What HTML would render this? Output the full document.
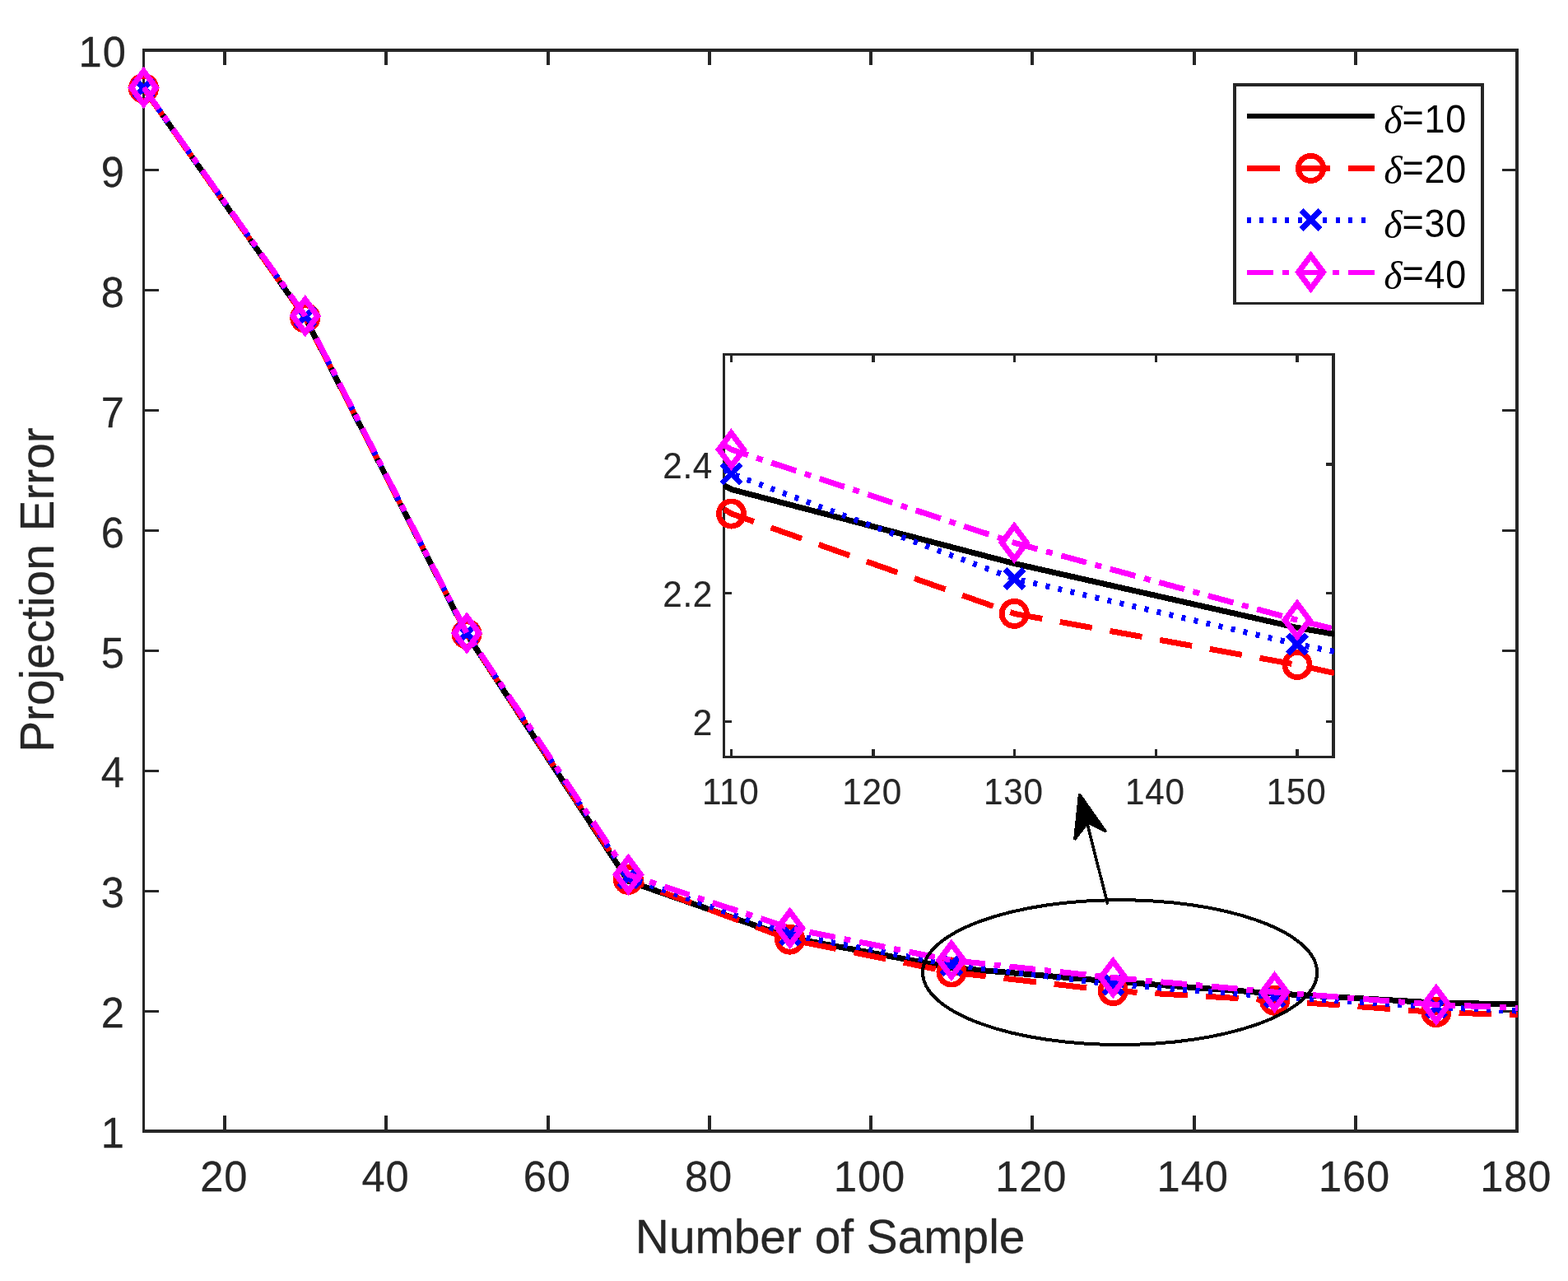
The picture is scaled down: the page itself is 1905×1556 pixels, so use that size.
<!DOCTYPE html>
<html lang="en"><head><meta charset="utf-8"><title>Projection Error vs Number of Sample</title>
<style>html,body{margin:0;padding:0;background:#fff}body{width:1905px;height:1556px;overflow:hidden}svg{display:block}text{font-family:"Liberation Sans",Arial,Helvetica,sans-serif;fill:#262626}.d{font-family:"Liberation Serif","DejaVu Serif",serif;font-style:italic}</style></head><body>
<svg width="1905" height="1556" viewBox="0 0 1905 1556" role="img" aria-label="Projection Error versus Number of Sample">
<defs><clipPath id="cm"><rect x="173" y="59" width="1671" height="1317"/></clipPath><clipPath id="ci"><rect x="879" y="430" width="742" height="490"/></clipPath></defs>
<rect width="1905" height="1556" fill="#fff"/>
<g fill="#262626" shape-rendering="crispEdges">
<rect x="173" y="59" width="3" height="1317"/>
<rect x="1841" y="59" width="4" height="1317"/>
<rect x="173" y="59" width="1672" height="4"/>
<rect x="173" y="1372" width="1672" height="4"/>
<rect x="271" y="1355" width="4" height="17"/>
<rect x="271" y="63" width="4" height="16"/>
<rect x="467" y="1355" width="4" height="17"/>
<rect x="467" y="63" width="4" height="16"/>
<rect x="664" y="1355" width="4" height="17"/>
<rect x="664" y="63" width="4" height="16"/>
<rect x="860" y="1355" width="4" height="17"/>
<rect x="860" y="63" width="4" height="16"/>
<rect x="1056" y="1355" width="4" height="17"/>
<rect x="1056" y="63" width="4" height="16"/>
<rect x="1252" y="1355" width="4" height="17"/>
<rect x="1252" y="63" width="4" height="16"/>
<rect x="1449" y="1355" width="4" height="17"/>
<rect x="1449" y="63" width="4" height="16"/>
<rect x="1645" y="1355" width="4" height="17"/>
<rect x="1645" y="63" width="4" height="16"/>
<rect x="176" y="1227" width="17" height="3"/>
<rect x="1825" y="1227" width="16" height="3"/>
<rect x="176" y="1081" width="17" height="3"/>
<rect x="1825" y="1081" width="16" height="3"/>
<rect x="176" y="935" width="17" height="3"/>
<rect x="1825" y="935" width="16" height="3"/>
<rect x="176" y="789" width="17" height="3"/>
<rect x="1825" y="789" width="16" height="3"/>
<rect x="176" y="643" width="17" height="3"/>
<rect x="1825" y="643" width="16" height="3"/>
<rect x="176" y="497" width="17" height="3"/>
<rect x="1825" y="497" width="16" height="3"/>
<rect x="176" y="351" width="17" height="3"/>
<rect x="1825" y="351" width="16" height="3"/>
<rect x="176" y="205" width="17" height="3"/>
<rect x="1825" y="205" width="16" height="3"/>
</g>
<g shape-rendering="crispEdges">
<g clip-path="url(#cm)"><path d="M174.5 107.1L370.79 386.04L567.09 770.31L763.38 1070.26L959.68 1138.97L1155.97 1175.45L1352.26 1192.25L1548.56 1206.81L1744.85 1218.04L1941.15 1221.69" fill="none" stroke="#000000" stroke-width="7" stroke-linejoin="round"/></g>









<g clip-path="url(#cm)"><path d="M174.5 107.25L370.79 386.04L567.09 770.02L763.38 1068.36L959.68 1141.16L1155.97 1180.96L1352.26 1203.63L1548.56 1215.23L1744.85 1229.57L1941.15 1235.99" fill="none" stroke="#ff0000" stroke-width="7" stroke-linejoin="round" stroke-dasharray="39.7 21.95"/></g>
<circle cx="174.5" cy="107.25" r="15.1" fill="none" stroke="#ff0000" stroke-width="6.8"/>
<circle cx="370.79" cy="386.04" r="15.1" fill="none" stroke="#ff0000" stroke-width="6.8"/>
<circle cx="567.09" cy="770.02" r="15.1" fill="none" stroke="#ff0000" stroke-width="6.8"/>
<circle cx="763.38" cy="1068.36" r="15.1" fill="none" stroke="#ff0000" stroke-width="6.8"/>
<circle cx="959.68" cy="1141.16" r="15.1" fill="none" stroke="#ff0000" stroke-width="6.8"/>
<circle cx="1155.97" cy="1180.96" r="15.1" fill="none" stroke="#ff0000" stroke-width="6.8"/>
<circle cx="1352.26" cy="1203.63" r="15.1" fill="none" stroke="#ff0000" stroke-width="6.8"/>
<circle cx="1548.56" cy="1215.23" r="15.1" fill="none" stroke="#ff0000" stroke-width="6.8"/>
<circle cx="1744.85" cy="1229.57" r="15.1" fill="none" stroke="#ff0000" stroke-width="6.8"/>
<g clip-path="url(#cm)"><path d="M174.5 106.81L370.79 384.73L567.09 769.73L763.38 1065.88L959.68 1135.33L1155.97 1171.9L1352.26 1195.71L1548.56 1210.56L1744.85 1223.44L1941.15 1232.78" fill="none" stroke="#0000ff" stroke-width="7" stroke-linejoin="round" stroke-dasharray="5 10.41"/></g>
<path d="M162.9 95.21L186.1 118.41M162.9 118.41L186.1 95.21" fill="none" stroke="#0000ff" stroke-width="7"/>
<path d="M359.19 373.13L382.39 396.33M359.19 396.33L382.39 373.13" fill="none" stroke="#0000ff" stroke-width="7"/>
<path d="M555.49 758.13L578.69 781.33M555.49 781.33L578.69 758.13" fill="none" stroke="#0000ff" stroke-width="7"/>
<path d="M751.78 1054.28L774.98 1077.48M751.78 1077.48L774.98 1054.28" fill="none" stroke="#0000ff" stroke-width="7"/>
<path d="M948.08 1123.73L971.28 1146.93M948.08 1146.93L971.28 1123.73" fill="none" stroke="#0000ff" stroke-width="7"/>
<path d="M1144.37 1160.3L1167.57 1183.5M1144.37 1183.5L1167.57 1160.3" fill="none" stroke="#0000ff" stroke-width="7"/>
<path d="M1340.66 1184.11L1363.86 1207.31M1340.66 1207.31L1363.86 1184.11" fill="none" stroke="#0000ff" stroke-width="7"/>
<path d="M1536.96 1198.96L1560.16 1222.16M1536.96 1222.16L1560.16 1198.96" fill="none" stroke="#0000ff" stroke-width="7"/>
<path d="M1733.25 1211.84L1756.45 1235.04M1733.25 1235.04L1756.45 1211.84" fill="none" stroke="#0000ff" stroke-width="7"/>
<g clip-path="url(#cm)"><path d="M174.5 106.37L370.79 383.85L567.09 769L763.38 1062.38L959.68 1127.45L1155.97 1166.4L1352.26 1187.55L1548.56 1205.09L1744.85 1220.38L1941.15 1227.97" fill="none" stroke="#ff00ff" stroke-width="7" stroke-linejoin="round" stroke-dasharray="31.9 10.9 8 10.85"/></g>
<path d="M174.5 86.37L189.5 106.37L174.5 126.37L159.5 106.37Z" fill="none" stroke="#ff00ff" stroke-width="7" stroke-linejoin="miter"/>
<path d="M370.79 363.85L385.79 383.85L370.79 403.85L355.79 383.85Z" fill="none" stroke="#ff00ff" stroke-width="7" stroke-linejoin="miter"/>
<path d="M567.09 749L582.09 769L567.09 789L552.09 769Z" fill="none" stroke="#ff00ff" stroke-width="7" stroke-linejoin="miter"/>
<path d="M763.38 1042.38L778.38 1062.38L763.38 1082.38L748.38 1062.38Z" fill="none" stroke="#ff00ff" stroke-width="7" stroke-linejoin="miter"/>
<path d="M959.68 1107.45L974.68 1127.45L959.68 1147.45L944.68 1127.45Z" fill="none" stroke="#ff00ff" stroke-width="7" stroke-linejoin="miter"/>
<path d="M1155.97 1146.4L1170.97 1166.4L1155.97 1186.4L1140.97 1166.4Z" fill="none" stroke="#ff00ff" stroke-width="7" stroke-linejoin="miter"/>
<path d="M1352.26 1167.55L1367.26 1187.55L1352.26 1207.55L1337.26 1187.55Z" fill="none" stroke="#ff00ff" stroke-width="7" stroke-linejoin="miter"/>
<path d="M1548.56 1185.09L1563.56 1205.09L1548.56 1225.09L1533.56 1205.09Z" fill="none" stroke="#ff00ff" stroke-width="7" stroke-linejoin="miter"/>
<path d="M1744.85 1200.38L1759.85 1220.38L1744.85 1240.38L1729.85 1220.38Z" fill="none" stroke="#ff00ff" stroke-width="7" stroke-linejoin="miter"/>
</g>
<text transform="translate(272.18 1446.9) scale(1 1.01)" font-size="50.63" letter-spacing="0.87" text-anchor="middle" stroke="#262626" stroke-width="0.25" stroke-linejoin="round">20</text>
<text transform="translate(468.48 1446.9) scale(1 1.01)" font-size="50.63" letter-spacing="0.87" text-anchor="middle" stroke="#262626" stroke-width="0.25" stroke-linejoin="round">40</text>
<text transform="translate(664.77 1446.9) scale(1 1.01)" font-size="50.63" letter-spacing="0.87" text-anchor="middle" stroke="#262626" stroke-width="0.25" stroke-linejoin="round">60</text>
<text transform="translate(861.06 1446.9) scale(1 1.01)" font-size="50.63" letter-spacing="0.87" text-anchor="middle" stroke="#262626" stroke-width="0.25" stroke-linejoin="round">80</text>
<text transform="translate(1056.56 1446.9) scale(1 1.01)" font-size="50.63" letter-spacing="0.87" text-anchor="middle" stroke="#262626" stroke-width="0.25" stroke-linejoin="round">100</text>
<text transform="translate(1252.85 1446.9) scale(1 1.01)" font-size="50.63" letter-spacing="0.87" text-anchor="middle" stroke="#262626" stroke-width="0.25" stroke-linejoin="round">120</text>
<text transform="translate(1449.15 1446.9) scale(1 1.01)" font-size="50.63" letter-spacing="0.87" text-anchor="middle" stroke="#262626" stroke-width="0.25" stroke-linejoin="round">140</text>
<text transform="translate(1645.44 1446.9) scale(1 1.01)" font-size="50.63" letter-spacing="0.87" text-anchor="middle" stroke="#262626" stroke-width="0.25" stroke-linejoin="round">160</text>
<text transform="translate(1841.74 1446.9) scale(1 1.01)" font-size="50.63" letter-spacing="0.87" text-anchor="middle" stroke="#262626" stroke-width="0.25" stroke-linejoin="round">180</text>
<text transform="translate(151.67 1394.1) scale(1 1.01)" font-size="50.63" letter-spacing="0.87" text-anchor="end" stroke="#262626" stroke-width="0.25" stroke-linejoin="round">1</text>
<text transform="translate(151.67 1248.21) scale(1 1.01)" font-size="50.63" letter-spacing="0.87" text-anchor="end" stroke="#262626" stroke-width="0.25" stroke-linejoin="round">2</text>
<text transform="translate(151.67 1102.32) scale(1 1.01)" font-size="50.63" letter-spacing="0.87" text-anchor="end" stroke="#262626" stroke-width="0.25" stroke-linejoin="round">3</text>
<text transform="translate(151.67 956.43) scale(1 1.01)" font-size="50.63" letter-spacing="0.87" text-anchor="end" stroke="#262626" stroke-width="0.25" stroke-linejoin="round">4</text>
<text transform="translate(151.67 810.54) scale(1 1.01)" font-size="50.63" letter-spacing="0.87" text-anchor="end" stroke="#262626" stroke-width="0.25" stroke-linejoin="round">5</text>
<text transform="translate(151.67 664.66) scale(1 1.01)" font-size="50.63" letter-spacing="0.87" text-anchor="end" stroke="#262626" stroke-width="0.25" stroke-linejoin="round">6</text>
<text transform="translate(151.67 518.77) scale(1 1.01)" font-size="50.63" letter-spacing="0.87" text-anchor="end" stroke="#262626" stroke-width="0.25" stroke-linejoin="round">7</text>
<text transform="translate(151.67 372.88) scale(1 1.01)" font-size="50.63" letter-spacing="0.87" text-anchor="end" stroke="#262626" stroke-width="0.25" stroke-linejoin="round">8</text>
<text transform="translate(151.67 226.99) scale(1 1.01)" font-size="50.63" letter-spacing="0.87" text-anchor="end" stroke="#262626" stroke-width="0.25" stroke-linejoin="round">9</text>
<text transform="translate(153.67 81.1) scale(1 1.01)" font-size="50.63" letter-spacing="0.87" text-anchor="end" stroke="#262626" stroke-width="0.25" stroke-linejoin="round">10</text>
<text transform="translate(1008.6 1521.5) scale(1 1.01)" font-size="56.8" text-anchor="middle" stroke="#262626" stroke-width="0.3" stroke-linejoin="round">Number of Sample</text>
<text transform="translate(64.8 716.5) rotate(-90) scale(1 1.01)" font-size="56.8" text-anchor="middle" stroke="#262626" stroke-width="0.3" stroke-linejoin="round">Projection Error</text>
<g shape-rendering="crispEdges">
<rect x="1498" y="101" width="305" height="269" fill="#fff"/>
<g fill="#262626"><rect x="1498" y="101" width="305" height="4"/><rect x="1498" y="367" width="305" height="3"/><rect x="1498" y="101" width="4" height="269"/><rect x="1799" y="101" width="4" height="269"/></g>
<path d="M1515 141L1670 141" fill="none" stroke="#000000" stroke-width="6" stroke-linejoin="round"/>

<path d="M1515 204.5L1670 204.5" fill="none" stroke="#ff0000" stroke-width="7" stroke-linejoin="round" stroke-dasharray="39.7 21.95"/>
<circle cx="1592.5" cy="204.4" r="15.1" fill="none" stroke="#ff0000" stroke-width="6.8"/>
<path d="M1515 267.5L1668 267.5" fill="none" stroke="#0000ff" stroke-width="7" stroke-linejoin="round" stroke-dasharray="5 10.41"/>
<path d="M1580.9 255.6L1604.1 278.8M1580.9 278.8L1604.1 255.6" fill="none" stroke="#0000ff" stroke-width="7"/>
<path d="M1515 331L1670 331" fill="none" stroke="#ff00ff" stroke-width="6" stroke-linejoin="round" stroke-dasharray="31.9 10.9 8 10.85"/>
<path d="M1592.5 310.5L1607.5 330.5L1592.5 350.5L1577.5 330.5Z" fill="none" stroke="#ff00ff" stroke-width="7" stroke-linejoin="miter"/>
</g>
<text transform="translate(1681.3 161.7)" class="d" font-size="48" style="fill:#000">δ</text>
<text transform="translate(1782 160.9) scale(1 1.06)" font-size="44.9" letter-spacing="0.78" text-anchor="end" style="fill:#000"><tspan dy="-1.5">=</tspan><tspan dy="1.5">10</tspan></text>
<text transform="translate(1681.3 222.6)" class="d" font-size="48" style="fill:#000">δ</text>
<text transform="translate(1782 221.8) scale(1 1.06)" font-size="44.9" letter-spacing="0.78" text-anchor="end" style="fill:#000"><tspan dy="-1.5">=</tspan><tspan dy="1.5">20</tspan></text>
<text transform="translate(1681.3 288.6)" class="d" font-size="48" style="fill:#000">δ</text>
<text transform="translate(1782 287.8) scale(1 1.06)" font-size="44.9" letter-spacing="0.78" text-anchor="end" style="fill:#000"><tspan dy="-1.5">=</tspan><tspan dy="1.5">30</tspan></text>
<text transform="translate(1681.3 350.6)" class="d" font-size="48" style="fill:#000">δ</text>
<text transform="translate(1782 349.8) scale(1 1.06)" font-size="44.9" letter-spacing="0.78" text-anchor="end" style="fill:#000"><tspan dy="-1.5">=</tspan><tspan dy="1.5">40</tspan></text>
<g shape-rendering="crispEdges">
<rect x="878" y="429" width="744" height="492" fill="#fff"/>
<g fill="#262626">
<rect x="878" y="429" width="3" height="492"/>
<rect x="1618" y="429" width="4" height="492"/>
<rect x="878" y="429" width="744" height="3"/>
<rect x="878" y="918" width="744" height="3"/>
<rect x="887" y="910" width="3" height="8"/>
<rect x="887" y="432" width="3" height="8"/>
<rect x="1059" y="910" width="4" height="8"/>
<rect x="1059" y="432" width="4" height="8"/>
<rect x="1231" y="910" width="3" height="8"/>
<rect x="1231" y="432" width="3" height="8"/>
<rect x="1403" y="910" width="3" height="8"/>
<rect x="1403" y="432" width="3" height="8"/>
<rect x="1574" y="910" width="4" height="8"/>
<rect x="1574" y="432" width="4" height="8"/>
<rect x="881" y="875" width="8" height="3"/>
<rect x="1611" y="875" width="7" height="3"/>
<rect x="881" y="719" width="8" height="3"/>
<rect x="1611" y="719" width="7" height="3"/>
<rect x="881" y="562" width="8" height="4"/>
<rect x="1611" y="562" width="7" height="4"/>
</g>
<g clip-path="url(#ci)"><path d="M879.5 589.36L888.5 594.47L1232.25 684.47L1576 762.44L1621 770.31" fill="none" stroke="#000000" stroke-width="7" stroke-linejoin="round"/></g>



<g clip-path="url(#ci)"><path d="M879.5 618.42L888.5 624L1232.25 745.41L1576 807.52L1621 817.57" fill="none" stroke="#ff0000" stroke-width="7" stroke-linejoin="round" stroke-dasharray="39.7 21.95"/></g>
<circle cx="888.5" cy="624" r="15.1" fill="none" stroke="#ff0000" stroke-width="6.8"/>
<circle cx="1232.25" cy="745.41" r="15.1" fill="none" stroke="#ff0000" stroke-width="6.8"/>
<circle cx="1576" cy="807.52" r="15.1" fill="none" stroke="#ff0000" stroke-width="6.8"/>
<g clip-path="url(#ci)"><path d="M879.5 570.36L888.5 575.48L1232.25 702.98L1576 782.52L1621 791.55" fill="none" stroke="#0000ff" stroke-width="7" stroke-linejoin="round" stroke-dasharray="5 10.41"/></g>
<path d="M876.9 563.88L900.1 587.08M876.9 587.08L900.1 563.88" fill="none" stroke="#0000ff" stroke-width="7"/>
<path d="M1220.65 691.38L1243.85 714.58M1220.65 714.58L1243.85 691.38" fill="none" stroke="#0000ff" stroke-width="7"/>
<path d="M1564.4 770.92L1587.6 794.12M1564.4 794.12L1587.6 770.92" fill="none" stroke="#0000ff" stroke-width="7"/>
<g clip-path="url(#ci)"><path d="M879.5 540.57L888.5 546.03L1232.25 659.31L1576 753.22L1621 763.94" fill="none" stroke="#ff00ff" stroke-width="7" stroke-linejoin="round" stroke-dasharray="31.9 10.9 8 10.85"/></g>
<path d="M888.5 526.03L903.5 546.03L888.5 566.03L873.5 546.03Z" fill="none" stroke="#ff00ff" stroke-width="7" stroke-linejoin="miter"/>
<path d="M1232.25 639.31L1247.25 659.31L1232.25 679.31L1217.25 659.31Z" fill="none" stroke="#ff00ff" stroke-width="7" stroke-linejoin="miter"/>
<path d="M1576 733.22L1591 753.22L1576 773.22L1561 753.22Z" fill="none" stroke="#ff00ff" stroke-width="7" stroke-linejoin="miter"/>
</g>
<text transform="translate(887.66 976.8) scale(1 1.06)" font-size="42.2" letter-spacing="0.73" text-anchor="middle" stroke="#262626" stroke-width="0.2" stroke-linejoin="round">110</text>
<text transform="translate(1059.54 976.8) scale(1 1.06)" font-size="42.2" letter-spacing="0.73" text-anchor="middle" stroke="#262626" stroke-width="0.2" stroke-linejoin="round">120</text>
<text transform="translate(1231.41 976.8) scale(1 1.06)" font-size="42.2" letter-spacing="0.73" text-anchor="middle" stroke="#262626" stroke-width="0.2" stroke-linejoin="round">130</text>
<text transform="translate(1403.29 976.8) scale(1 1.06)" font-size="42.2" letter-spacing="0.73" text-anchor="middle" stroke="#262626" stroke-width="0.2" stroke-linejoin="round">140</text>
<text transform="translate(1575.16 976.8) scale(1 1.06)" font-size="42.2" letter-spacing="0.73" text-anchor="middle" stroke="#262626" stroke-width="0.2" stroke-linejoin="round">150</text>
<text transform="translate(866.03 893.2) scale(1 1.06)" font-size="42.2" letter-spacing="0.73" text-anchor="end" stroke="#262626" stroke-width="0.2" stroke-linejoin="round">2</text>
<text transform="translate(866.03 736.95) scale(1 1.06)" font-size="42.2" letter-spacing="0.73" text-anchor="end" stroke="#262626" stroke-width="0.2" stroke-linejoin="round">2.2</text>
<text transform="translate(866.03 580.7) scale(1 1.06)" font-size="42.2" letter-spacing="0.73" text-anchor="end" stroke="#262626" stroke-width="0.2" stroke-linejoin="round">2.4</text>
<g shape-rendering="crispEdges" stroke="#000" fill="none">
<ellipse cx="1360.6" cy="1181.1" rx="239.6" ry="87.9" stroke-width="4"/>
<path d="M1345.8 1098.5L1321.2 1001.7" stroke-width="3.6"/>
<path d="M1311.4 964.4L1343.8 1010.4L1321.6 999.2L1305.6 1020Z" fill="#000" stroke="#000" stroke-width="3" stroke-linejoin="bevel"/>
</g>
</svg></body></html>
